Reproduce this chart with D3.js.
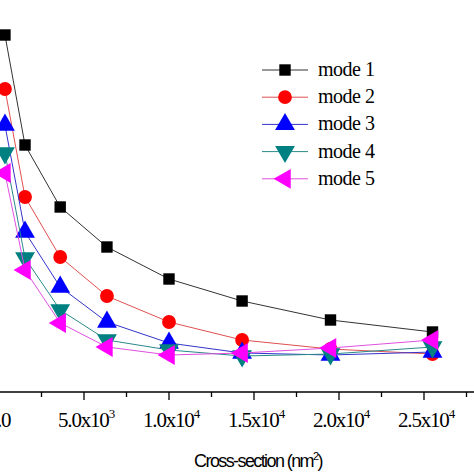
<!DOCTYPE html><html><head><script src="https://cdn.jsdelivr.net/npm/d3@7"></script>
<style>body{margin:0;background:#fff}</style></head><body><svg id="c" width="474" height="474"></svg>
<script>
const xs=[350,1530,3600,6350,10000,14300,19500,25500];
const mode1=[357,247,185,145,113,91,72,60];
const mode2=[303,195,135,96,70,52,43,38];
const mode3=[267,160,105,70,49,39,37,40];
const mode4=[239,134,82,52,42,36,38,45];
const mode5=[219,122,69,45,37,39,44,52];
const names=["mode 1","mode 2","mode 3","mode 4","mode 5"];
const xTicks=[0,5000,10000,15000,20000,25000];
const xMant=["0.0","5.0x10","1.0x10","1.5x10","2.0x10","2.5x10"];
const xExp=["","3","4","4","4","4"];
const series=[mode1,mode2,mode3,mode4,mode5];
const colors=["#000","#f00","#00f","#008080","#f0f"];
const lineCol=["#333","#e05050","#3333cc","#2a8a8a","#e050e0"];
const syms=[d3.symbolSquare,d3.symbolCircle,d3.symbolTriangle,d3.symbolTriangle,d3.symbolTriangle];
const rots=[0,0,0,180,-90];
const svg=d3.select("#c");
const x=d3.scaleLinear().domain([0,25000]).range([-1,424]);
const y=d3.scaleLinear().domain([0,392]).range([392,0]);
const ax=svg.append("g").attr("transform","translate(0,392)");
ax.append("line").attr("x1",0).attr("x2",474).attr("stroke","#000").attr("stroke-width",1.5);
d3.range(0,28000,2500).forEach(v=>{const major=v%5000===0;ax.append("line").attr("x1",x(v)).attr("x2",x(v)).attr("y1",0).attr("y2",major?8:5).attr("stroke","#000").attr("stroke-width",1.3);});
xTicks.forEach((v,i)=>{const t=ax.append("text").attr("x",x(v)+(i?2:0)).attr("y",35).attr("text-anchor","middle").attr("font-family","Liberation Serif").attr("font-size",21).attr("letter-spacing",-1.2);
 t.append("tspan").text(xMant[i]); if(xExp[i]) t.append("tspan").attr("dy",-9).attr("font-size",13).text(xExp[i]);});
const tt=svg.append("text").attr("x",258).attr("y",467).attr("text-anchor","middle").attr("font-family","Liberation Sans").attr("font-size",18).attr("letter-spacing",-1.6);
tt.append("tspan").text("Cross-section (nm");tt.append("tspan").attr("dy",-7).attr("font-size",11).text("2");tt.append("tspan").attr("dy",7).text(")");
series.forEach((s,i)=>{
 const pts=xs.map((v,j)=>[x(v),y(s[j])]);
 svg.append("path").attr("d",d3.line()(pts)).attr("fill","none").attr("stroke",lineCol[i]).attr("stroke-width",1);
 const sz=i===0?130:i===1?150:170;
 pts.forEach(p=>svg.append("path").attr("d",d3.symbol(syms[i],sz)()).attr("fill",colors[i]).attr("transform",`translate(${p[0]},${p[1]}) rotate(${rots[i]})`));
 const ly=70+i*27.2;
 svg.append("line").attr("x1",262).attr("x2",308).attr("y1",ly).attr("y2",ly).attr("stroke",lineCol[i]);
 svg.append("path").attr("d",d3.symbol(syms[i],sz)()).attr("fill",colors[i]).attr("transform",`translate(285,${ly}) rotate(${rots[i]})`);
 svg.append("text").attr("x",318).attr("y",ly+6).attr("font-family","Liberation Serif").attr("font-size",20).attr("letter-spacing",-0.5).text(names[i]);
});
</script></body></html>
